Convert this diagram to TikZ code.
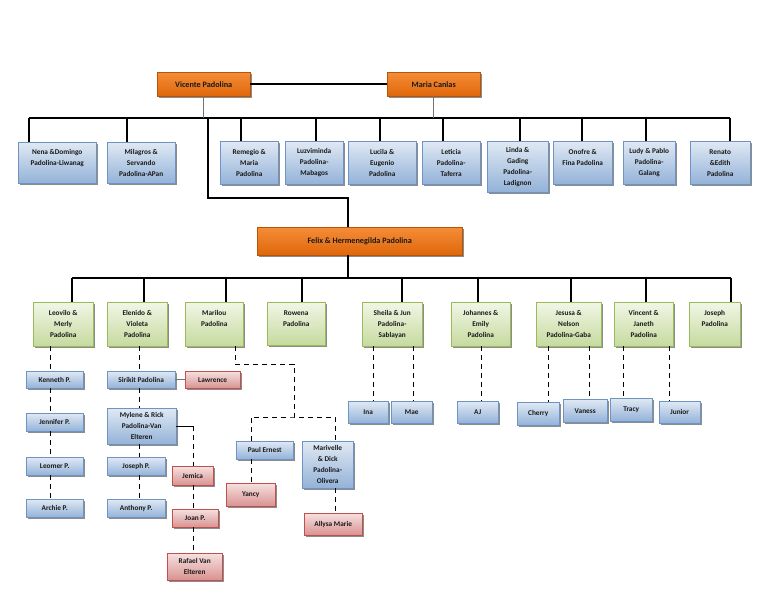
\documentclass[tikz,border=0pt]{standalone}
\usepackage{fontspec}
\setmainfont{Carlito}
\usetikzlibrary{shadows}

\definecolor{orgT}{HTML}{F58D38}
\definecolor{orgB}{HTML}{DF660A}
\definecolor{orgE}{HTML}{B5550B}
\definecolor{bluT}{HTML}{E0E9F4}
\definecolor{bluB}{HTML}{93B2D8}
\definecolor{bluE}{HTML}{6F93C2}
\definecolor{grnT}{HTML}{F1F6E6}
\definecolor{grnB}{HTML}{C6DA9E}
\definecolor{grnE}{HTML}{9BBB59}
\definecolor{redT}{HTML}{F5E1E0}
\definecolor{redB}{HTML}{D99290}
\definecolor{redE}{HTML}{C0504D}

\tikzset{
  box/.style={draw, anchor=north west, inner sep=1pt, align=center, text=black!90,
    font=\bfseries\fontsize{7.3}{11}\selectfont,
    drop shadow={shadow xshift=1.5pt, shadow yshift=-1.5pt, opacity=0.45, fill=black}},
  sz/.style 2 args={minimum width=#1pt, minimum height=#2pt},
  orgbox/.style={box, draw=orgE, top color=orgT, bottom color=orgB, font=\bfseries\fontsize{8.2}{11}\selectfont},
  blubox/.style={box, draw=bluE, top color=bluT, bottom color=bluB},
  grnbox/.style={box, draw=grnE, top color=grnT, bottom color=grnB},
  redbox/.style={box, draw=redE, top color=redT, bottom color=redB},
  famline/.style={draw=black, line width=2.2pt},
  stubline/.style={draw=black!55, line width=1pt},
  kidline/.style={draw=black, line width=0.9pt, dash pattern=on 5pt off 4pt},
  kidsolid/.style={draw=black, line width=0.9pt}
}

\begin{document}
\begin{tikzpicture}[x=1pt, y=-1pt]
  \useasboundingbox[fill=white] (0,0) rectangle (768,594);

  % Parents
  \node[orgbox, sz={93}{24}] (vic) at (157,72) {Vicente Padolina};
  \node[orgbox, sz={93}{24}] (mar) at (387,72) {Maria Canlas};
  \draw[famline] (vic) -- (mar);

  % First generation
  \node[blubox, sz={78}{41}] (nena) at (18,142) {Nena \&Domingo\\Padolina-Liwanag\\~};
  \node[blubox, sz={68}{41}] (mil) at (107,142) {Milagros \&\\Servando\\Padolina-APan};
  \node[blubox, sz={58}{43}] (rem) at (220,141) {Remegio \&\\Maria\\Padolina};
  \node[blubox, sz={58}{43}] (luz) at (285,141) {Luzviminda\\Padolina-\\Mabagos};
  \node[blubox, sz={68}{43}] (luc) at (348,141) {Lucila \&\\Eugenio\\Padolina};
  \node[blubox, sz={58}{43}] (let) at (422,141) {Leticia\\Padolina-\\Taferra};
  \node[blubox, sz={61}{51}] (lin) at (487,141) {Linda \&\\Gading\\Padolina-\\Ladignon};
  \node[blubox, sz={59}{43}] (ono) at (553,141) {Onofre \&\\Fina Padolina\\~};
  \node[blubox, sz={52}{43}] (lud) at (623,141) {Ludy \& Pablo\\Padolina-\\Galang};
  \node[blubox, sz={60}{43}] (ren) at (690,141) {Renato\\\&Edith\\Padolina};

  \coordinate (bar1l) at (29,118);
  \coordinate (bar1r) at (730,118);
  \draw[famline] (bar1l) -- (bar1r);
  \draw[stubline] (vic.south) -- (vic.south |- bar1l);
  \draw[stubline] (mar.south) -- (mar.south |- bar1l);
  \foreach \n/\x in {nena/29, mil/127, rem/241, luz/316, luc/380,
                     let/443, lin/520, ono/582, lud/646, ren/730}
    \draw[famline] (bar1l -| \x,0) -- (\n.north -| \x,0);

  % Felix branch
  \node[orgbox, sz={205}{28}] (fel) at (257,227) {Felix \& Hermenegilda Padolina};
  \coordinate (bend) at (348,198);
  \draw[famline] (bar1l -| 208,0) |- (bend) -- (fel.north -| bend);

  \node[grnbox, sz={60}{44}] (leo) at (33,302) {Leovilo \&\\Merly\\Padolina};
  \node[grnbox, sz={60}{44}] (ele) at (107,302) {Elenido \&\\Violeta\\Padolina};
  \node[grnbox, sz={58}{44}] (mari) at (185,302) {Marilou\\Padolina\\~};
  \node[grnbox, sz={58}{43}] (row) at (267,302) {Rowena\\Padolina\\~};
  \node[grnbox, sz={60}{44}] (she) at (362,302) {Sheila \& Jun\\Padolina-\\Sablayan};
  \node[grnbox, sz={59}{44}] (joh) at (451,302) {Johannes \&\\Emily\\Padolina};
  \node[grnbox, sz={65}{44}] (jes) at (536,302) {Jesusa \&\\Nelson\\Padolina-Gaba};
  \node[grnbox, sz={59}{44}] (vin) at (614,302) {Vincent \&\\Janeth\\Padolina};
  \node[grnbox, sz={51}{44}] (jos) at (689,302) {Joseph\\Padolina\\~};

  \coordinate (bar2l) at (72,278);
  \coordinate (bar2r) at (731,278);
  \draw[famline] (fel.south -| bend) -- (bar2l -| bend);
  \draw[famline] (bar2l) -- (bar2r);
  \foreach \n/\x in {leo/72, ele/144, mari/226, row/302, she/402,
                     joh/478, jes/571, vin/646, jos/731}
    \draw[famline] (bar2l -| \x,0) -- (\n.north -| \x,0);

  % Grandchildren
  \node[blubox, sz={57}{17}] (ken) at (26,371) {Kenneth P.};
  \node[blubox, sz={57}{18}] (jen) at (26,413) {Jennifer P.};
  \node[blubox, sz={57}{18}] (leom) at (26,457) {Leomer P.};
  \node[blubox, sz={57}{18}] (arc) at (26,499) {Archie P.};
  \foreach \a/\b in {leo/ken, ken/jen, jen/leom, leom/arc}
    \draw[kidline] (\a.south -| 50,0) -- (\b.north -| 50,0);

  \node[blubox, sz={68}{17}] (sir) at (107,371) {Sirikit Padolina};
  \node[redbox, sz={55}{17}] (law) at (185,371) {Lawrence};
  \node[blubox, sz={69}{36}] (myl) at (107,408) {Mylene \& Rick\\Padolina-Van\\Elteren};
  \node[blubox, sz={58}{18}] (jsp) at (107,457) {Joseph P.};
  \node[blubox, sz={58}{18}] (ant) at (107,499) {Anthony P.};
  \foreach \a/\b in {ele/sir, sir/myl, myl/jsp, jsp/ant}
    \draw[kidline] (\a.south -| 139,0) -- (\b.north -| 139,0);
  \draw[stubline] (sir) -- (law);

  \node[redbox, sz={41}{19}] (jem) at (172,466) {Jemica};
  \node[redbox, sz={46}{18}] (joa) at (172,509) {Joan P.};
  \node[redbox, sz={55}{27}] (raf) at (167,553) {Rafael Van\\Elteren};
  \draw[kidsolid] (myl.east) -- (myl.east -| 193,0);
  \draw[kidline] (myl.east -| 193,0) -- (jem.north -| 193,0);
  \foreach \a/\b in {jem/joa, joa/raf}
    \draw[kidline] (\a.south -| 193,0) -- (\b.north -| 193,0);

  \node[blubox, sz={57}{18}] (pau) at (236,441) {Paul Ernest};
  \node[redbox, sz={49}{23}] (yan) at (226,483) {Yancy};
  \node[blubox, sz={51}{47}] (mav) at (302,441) {Marivelle\\\& Dick\\Padolina-\\Olivera};
  \node[redbox, sz={58}{22}] (aly) at (304,513) {Allysa Marie};
  \coordinate (mjog) at (294,417);
  \draw[kidline] (mari.south -| 235,0) |- (mjog |- 0,364) -- (mjog);
  \draw[kidline] (pau.north -| 251,0) |- (mjog) -| (mav.north -| 335,0);
  \draw[kidline] (pau.south -| 251,0) -- (yan.north -| 251,0);
  \draw[kidline] (mav.south -| 335,0) -- (aly.north -| 335,0);

  \node[blubox, sz={40}{22}] (ina) at (348,401) {Ina};
  \node[blubox, sz={41}{22}] (mae) at (391,401) {Mae};
  \node[blubox, sz={41}{22}] (aj) at (457,401) {AJ};
  \node[blubox, sz={42}{23}] (che) at (517,402) {Cherry};
  \node[blubox, sz={44}{23}] (van) at (563,399) {Vaness};
  \node[blubox, sz={42}{23}] (tra) at (610,398) {Tracy};
  \node[blubox, sz={41}{22}] (jun) at (659,401) {Junior};
  \foreach \a/\b/\x in {she/ina/373, she/mae/413, joh/aj/481, jes/che/548,
                        jes/van/589, vin/tra/623, vin/jun/669}
    \draw[kidline] (\a.south -| \x,0) -- (\b.north -| \x,0);
\end{tikzpicture}
\end{document}
